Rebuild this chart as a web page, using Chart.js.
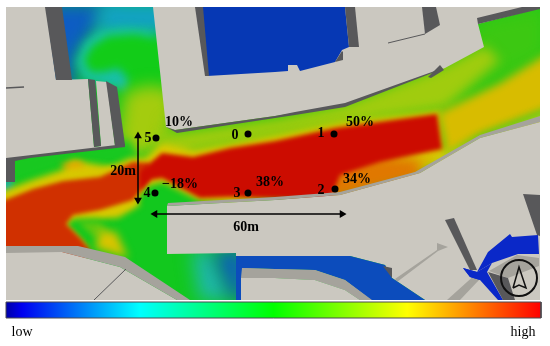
<!DOCTYPE html>
<html>
<head>
  <title>Flow field map</title>
  <script src="https://cdn.jsdelivr.net/npm/chart.js"></script>
  <style>
    body { margin: 0; background: #fff; }
    canvas { display: block; }
  </style>
</head>
<body>
  <canvas id="map" width="550" height="346"></canvas>
  <script>
    // --- Field areas (map units) ---
    const fieldBase = [[0,0],[550,0],[550,300],[0,300]];
    const yardBlue = [[40,0],[120,0],[100,28],[76,60],[80,90],[40,90]];
    const yardTeal = [[100,0],[170,0],[170,35],[95,35]];
    const swirlCyan = [[76,62],[84,42],[100,30],[125,27],[152,30],[160,60],[130,92],[100,84],[84,80]];
    const swirlGreen = [[84,60],[92,46],[108,36],[135,34],[165,40],[170,100],[125,100],[128,78],[118,68],[104,72],[90,72]];
    const neckYellow = [[125,92],[150,85],[172,90],[178,140],[150,152],[125,160],[118,135]];
    const streetLeftGreen = [[0,155],[130,140],[140,165],[60,170],[0,190]];
    const streetLeftCyan = [[0,178],[12,178],[14,190],[0,198]];
    const roadGreen = [[170,125],[345,95],[440,60],[480,15],[550,0],[550,60],[440,115],[280,140],[170,150]];
    const roadLime = [[160,135],[280,118],[345,104],[440,68],[485,46],[500,60],[445,108],[340,125],[200,150],[155,165]];
    const roadYellowEdge = [[145,158],[162,144],[193,150],[280,134],[340,122],[440,110],[445,160],[340,185],[235,203],[200,201],[163,182],[148,186],[133,204],[100,215],[100,172],[130,158]];
    const roadAmber = [[438,113],[500,83],[550,52],[550,108],[480,135],[410,178],[400,160],[445,150]];
    const roadLimeSouth = [[440,155],[550,110],[550,130],[420,180]];
    const leftYellow = [[0,192],[32,180],[62,170],[72,160],[100,165],[125,168],[140,205],[118,218],[74,219],[66,224],[80,238],[90,250],[0,255]];
    const hotSpot = [[60,164],[80,161],[85,166],[65,168]];
    const leftOrange = [[0,202],[33,189],[63,181],[100,177],[133,162],[150,163],[150,180],[133,200],[100,210],[73,215],[66,224],[80,238],[90,250],[85,262],[0,262]];
    const wedgeGreen = [[78,222],[100,222],[108,232],[95,238]];
    const wedgeYellow = [[100,230],[116,232],[128,258],[95,248]];
    const roadRed = [[140,172],[150,163],[162,153],[193,157],[230,148],[275,141],[335,128],[437,114],[442,149],[380,162],[340,175],[330,200],[230,197],[200,198],[162,178],[150,180],[140,190]];
    const roadOrange = [[320,168],[380,155],[420,160],[420,180],[340,200],[310,200]];
    const southCyan = [[192,250],[210,250],[232,300],[200,300]];
    const southBlue = [[212,250],[245,250],[245,300],[232,300]];

    // --- Buildings and walls ---
    const blockWest = [[6,7],[46,7],[56,80],[88,79],[94,147],[101,146],[96,81],[107,82],[115,146],[6,160]];
    const blockNorth = [[153,7],[540,7],[540,8],[478,24],[484,47],[445,68],[345,104],[295,113],[275,116],[175,130],[166,127]];
    const blockSouth = [[167,206],[275,200],[340,195],[420,173],[480,138],[540,122],[540,300],[425,300],[392,278],[385,265],[350,256],[236,256],[236,253],[167,254]];
    const blockSouthLow = [[241,278],[275,278],[315,280],[345,290],[360,300],[241,300]];
    const blockSouthWest = [[6,252],[62,252],[120,267],[177,300],[6,300]];
    const wallsDark = [
      [[45,7],[62,7],[72,80],[56,80]],
      [[88,79],[95,80],[101,146],[94,147]],
      [[106,81],[117,87],[125,145],[115,146]],
      [[6,158],[125,144],[125,147],[30,158],[15,161],[15,182],[6,182]],
      [[166,127],[177,133],[275,118],[275,116],[175,130]],
      [[275,118],[295,115],[345,107],[440,70],[443,68],[345,103],[295,112],[275,116]],
      [[428,77],[440,65],[444,70],[431,78]],
      [[477,18],[522,7],[540,7],[540,9],[478,24]],
      [[422,7],[436,7],[440,25],[425,34]],
      [[195,7],[203,7],[209,76],[205,76]],
      [[345,7],[355,7],[359,47],[349,47]],
      [[342,51],[335,62],[343,60],[343,52]],
      [[445,220],[454,218],[477,270],[470,270]],
      [[523,194],[540,195],[540,236],[537,235]],
      [[383,266],[392,268],[392,278]],
      [[488,272],[508,278],[515,300],[503,300]]
    ];
    const wallsLight = [
      [[168,203],[275,197],[340,192],[415,172],[480,135],[540,116],[540,122],[480,138],[420,173],[340,195],[275,200],[167,206]],
      [[6,246],[78,246],[125,257],[190,300],[177,300],[120,267],[62,252],[6,253]],
      [[242,268],[275,269],[315,270],[345,280],[372,300],[360,300],[345,290],[315,280],[275,278],[241,278]],
      [[395,279],[437,250],[437,243],[448,247],[438,251],[397,282]],
      [[447,300],[477,273],[479,280],[460,300]],
      [[489,271],[517,255],[539,258],[539,266],[508,278]]
    ];
    const yardDeepBlue = [[197,7],[345,7],[349,47],[342,50],[335,62],[300,71],[297,65],[288,65],[288,71],[275,72],[207,76]];
    const pondNorth = [[488,252],[510,234],[512,237],[538,235],[539,254],[518,254],[492,263],[477,272],[480,280],[470,277],[463,268],[477,272]];
    const pondSouth = [[463,268],[477,272],[492,263],[487,272],[503,300],[498,300],[480,280],[470,277]];
    const canalSouth = [[236,256],[350,256],[385,265],[392,278],[425,300],[371,300],[345,280],[315,270],[275,269],[242,268],[241,300],[236,300]];
    const whiteTop = [[0,0],[550,0],[550,7],[0,7]];
    const whiteRight = [[540,0],[550,0],[550,302],[540,302]];
    const whiteLeft = [[0,0],[6,0],[6,302],[0,302]];
    const whiteBottom = [[0,300],[550,300],[550,346],[0,346]];
    const colorBar = [[6,302],[541,302],[541,318],[6,318],[6,302]];
    const lineWest = [[6,88],[24,87]];
    const lineSouth = [[126,269],[94,300]];
    const lineNorth = [[388,43],[425,34]];

    // --- Probe points and annotations ---
    const probeX = [248, 334, 335, 248, 155, 156];
    const probeY = [134, 134, 189, 193, 193, 138];
    const arrowVertical = [[138,136],[138,200]];
    const arrowHorizontal = [[155,214],[342,214]];
    const compassEdge = [[513,288],[519,267],[526,288],[519,285],[513,288]];
    const compassRing = [[519,278]];

    const markTexts = ['0','1','2','3','4','5','10%','50%','34%','38%','\u221218%','60m','20m'];
    const markX = [235,321,321,237,147,148,179,360,357,270,180,246,123];
    const markY = [135,133,190,193,193,138,122,122,179,182,184,227,171];
    const scaleTexts = ['low','high'];
    const scaleX = [22,523];
    const scaleY = [332,332];
    const barStops = [0, 0.03, 0.25, 0.5, 0.75, 1];
    const barColors = ['#0000a8','#0000f0','#00ffff','#00ff00','#ffff00','#ff0000'];

    const toPoints = pts => pts.map(([x, y]) => ({ x, y }));

    function area(pts, color, blur) {
      return { data: toPoints(pts), showLine: true, fill: 'shape', backgroundColor: color,
               borderWidth: 0, pointRadius: 0, blur: blur || 0 };
    }
    function stroke(pts, color, width) {
      return { data: toPoints(pts), showLine: true, fill: false, borderColor: color,
               borderWidth: width, pointRadius: 0 };
    }

    const ctx = document.getElementById('map').getContext('2d');
    const barGradient = ctx.createLinearGradient(6, 0, 541, 0);
    barStops.forEach((s, i) => barGradient.addColorStop(s, barColors[i]));

    const datasets = [
      area(fieldBase, '#12c81e'),
      area(yardBlue, '#0d5cc4', 10),
      area(yardTeal, '#12a2c2', 8),
      area(swirlCyan, '#18c0a8', 4),
      area(swirlGreen, '#12cc18', 4),
      area(neckYellow, '#a4cc0e', 8),
      area(streetLeftGreen, '#18c820', 4),
      area(streetLeftCyan, '#18b0a0', 3),
      area(roadGreen, '#3cc812', 10),
      area(roadLime, '#a0cc0e', 6),
      area(roadYellowEdge, '#dcc800', 3),
      area(roadAmber, '#d8bc00', 4),
      area(roadLimeSouth, '#c8d010', 4),
      area(southCyan, '#20b8b0', 9),
      area(southBlue, '#0c5cc0', 9),
      area(leftYellow, '#d8c800', 3),
      area(hotSpot, '#e8a000', 3),
      area(leftOrange, '#d03000', 2),
      area(wedgeGreen, '#60c810', 3),
      area(wedgeYellow, '#d8c400', 4),
      area(roadOrange, '#e07800', 6),
      area(roadRed, '#cc0c00', 2),
      area(blockWest, '#cbc8c0'),
      area(blockNorth, '#cbc8c0'),
      area(blockSouth, '#cbc8c0'),
      area(blockSouthWest, '#cbc8c0'),
      ...wallsLight.map(w => area(w, '#a5a39c')),
      area(yardDeepBlue, '#0638b4'),
      area(canalSouth, '#0c4cbc'),
      area(blockSouthLow, '#cbc8c0'),
      ...wallsLight.slice(2, 3).map(w => area(w, '#a5a39c')),
      area(pondNorth, '#0a28c8'),
      area(pondSouth, '#0a28c8'),
      ...wallsDark.map(w => area(w, '#58585a')),
      stroke(lineWest, '#58585a', 1.5),
      stroke(lineSouth, '#58585a', 1),
      stroke(lineNorth, '#58585a', 1),
      area(whiteTop, '#ffffff'),
      area(whiteRight, '#ffffff'),
      area(whiteLeft, '#ffffff'),
      area(whiteBottom, '#ffffff'),
      { data: toPoints(colorBar), showLine: true, fill: 'shape', backgroundColor: barGradient,
        borderColor: '#4a4a50', borderWidth: 1, pointRadius: 0 },
      { data: toPoints(arrowVertical), showLine: true, borderColor: '#000', borderWidth: 1.5,
        pointStyle: 'triangle', pointRadius: 3, pointRotation: [0, 180], backgroundColor: '#000' },
      { data: toPoints(arrowHorizontal), showLine: true, borderColor: '#000', borderWidth: 1.5,
        pointStyle: 'triangle', pointRadius: 3, pointRotation: [270, 90], backgroundColor: '#000' },
      { data: probeX.map((x, i) => ({ x, y: probeY[i] })), pointRadius: 3.5, backgroundColor: '#000', borderWidth: 0 },
      { data: toPoints(compassRing), pointRadius: 18, backgroundColor: 'rgba(0,0,0,0)', borderColor: '#111', borderWidth: 2 },
      stroke(compassEdge, '#111', 1.5)
    ];
    // first dataset paints first
    datasets.forEach((d, i) => { d.order = -i; });

    // the filler runs before inline plugins, so each blur is set after the previous dataset
    const fieldBlur = {
      id: 'fieldBlur',
      beforeDatasetsDraw(chart) { chart.ctx.filter = 'none'; },
      afterDatasetDraw(chart, args) {
        const next = datasets[args.index + 1];
        chart.ctx.filter = next && next.blur ? 'blur(' + next.blur + 'px)' : 'none';
      }
    };

    const mapLabels = {
      id: 'mapLabels',
      afterDatasetsDraw(chart) {
        const c = chart.ctx, sx = chart.scales.x, sy = chart.scales.y;
        c.save();
        c.fillStyle = '#000';
        c.textAlign = 'center';
        c.textBaseline = 'middle';
        c.font = 'bold 14px "Liberation Serif"';
        markTexts.forEach((t, i) => c.fillText(t, sx.getPixelForValue(markX[i]), sy.getPixelForValue(markY[i])));
        c.font = '14px "Liberation Serif"';
        scaleTexts.forEach((t, i) => c.fillText(t, sx.getPixelForValue(scaleX[i]), sy.getPixelForValue(scaleY[i])));
        c.restore();
      }
    };

    new Chart(ctx, {
      type: 'scatter',
      data: { datasets },
      plugins: [fieldBlur, mapLabels],
      options: {
        responsive: false,
        animation: false,
        layout: { padding: 0, autoPadding: false },
        plugins: { legend: { display: false }, tooltip: { enabled: false } },
        elements: { line: { tension: 0 } },
        scales: {
          x: { type: 'linear', min: 0, max: 550, display: false },
          y: { type: 'linear', min: 0, max: 346, reverse: true, display: false }
        }
      }
    });
  </script>
</body>
</html>
